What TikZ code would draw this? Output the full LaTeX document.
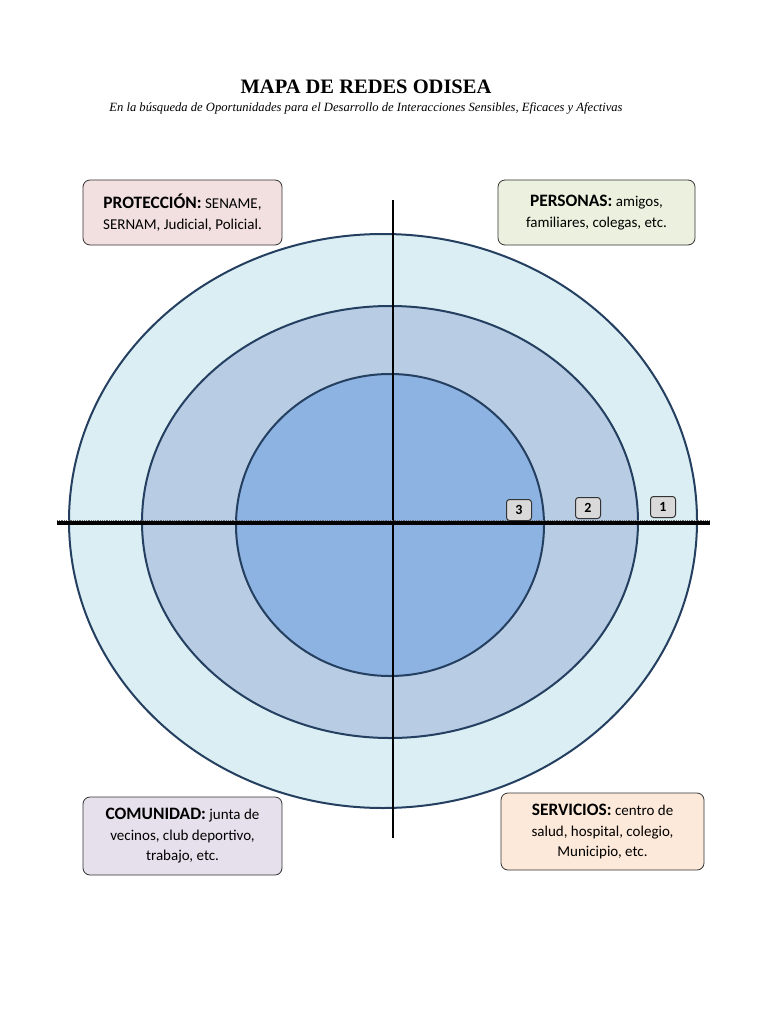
\documentclass[tikz,border=0pt]{standalone}
\usepackage{fontspec}
\setmainfont{Carlito}
\newfontfamily\ttl{Liberation Serif}
\definecolor{ring1}{HTML}{DAEEF3}
\definecolor{ring2}{HTML}{B8CCE4}
\definecolor{ring3}{HTML}{8DB3E2}
\definecolor{edge}{HTML}{243F60}
\begin{document}
\begin{tikzpicture}[x=1pt,y=-1pt,
  ring/.style={draw=edge,line width=2pt},
  box/.style={draw=black!80,line width=0.8pt,rounded corners=7pt,align=center,font=\fontsize{15}{20.5}\selectfont,inner sep=0pt},
  num/.style={draw=black!80,fill=black!15,line width=1pt,rounded corners=3pt,minimum width=25pt,minimum height=21pt,font=\bfseries\fontsize{14}{14}\selectfont,inner sep=0pt}]
\useasboundingbox (0,0) rectangle (768,1024);
\fill[white] (0,0) rectangle (768,1024);
\node[font=\ttl\bfseries\fontsize{20.5}{22}\selectfont] (title) at (366,87) {MAPA DE REDES ODISEA};
\node[font=\ttl\itshape\fontsize{12.6}{14}\selectfont] (sub) at (366,108) {En la búsqueda de Oportunidades para el Desarrollo de Interacciones Sensibles, Eficaces y Afectivas};
\path[ring,fill=ring1] (383,521) ellipse [x radius=314, y radius=287];
\path[ring,fill=ring2] (390,522) ellipse [x radius=248, y radius=216];
\path[ring,fill=ring3] (390,525) ellipse [x radius=154, y radius=151];
\coordinate (vt) at (393,200); \coordinate (vb) at (393,838);
\coordinate (hl) at (57,523); \coordinate (hr) at (710,523);
\draw[line width=2.5pt] (vt) -- (vb);
\draw[black!60,line width=3pt,dash pattern=on 0.6pt off 1.2pt] ([yshift=2pt]hl) -- ([yshift=2pt]hr);
\draw[line width=3.5pt] (hl) -- (hr);
\node[box,fill=red!8!white!95!black,minimum width=199pt,minimum height=65pt] (prot) at (182.5,212.5) {\textbf{\fontsize{17.4}{20}\selectfont PROTECCIÓN:} SENAME,\\SERNAM, Judicial, Policial.};
\node[box,fill={rgb,255:red,235;green,241;blue,222},minimum width=197pt,minimum height=65pt] (pers) at (596.5,212.5) {\textbf{\fontsize{17.4}{20}\selectfont PERSONAS:} amigos,\\familiares, colegas, etc.};
\node[box,fill={rgb,255:red,229;green,224;blue,236},minimum width=199pt,minimum height=78pt] (com) at (182.5,836) {\textbf{\fontsize{17.4}{20}\selectfont COMUNIDAD:} junta de\\vecinos, club deportivo,\\trabajo, etc.};
\node[box,fill={rgb,255:red,253;green,233;blue,217},minimum width=203pt,minimum height=77pt] (serv) at (602.5,831.5) {\textbf{\fontsize{17.4}{20}\selectfont SERVICIOS:} centro de\\salud, hospital, colegio,\\Municipio, etc.};
\node[num] (n3) at (519,510) {3};
\node[num] (n2) at (588,508) {2};
\node[num] (n1) at (663,507) {1};
\end{tikzpicture}
\end{document}
